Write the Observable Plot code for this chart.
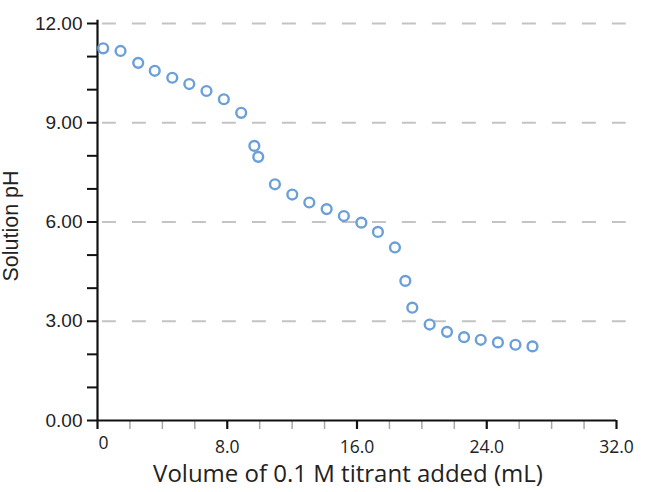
<!DOCTYPE html>
<html>
<head>
<meta charset="utf-8">
<script src="https://cdn.jsdelivr.net/npm/d3@7"></script>
<script src="https://cdn.jsdelivr.net/npm/@observablehq/plot@0.6"></script>
<style>
  html, body { margin: 0; padding: 0; background: #fff; overflow: hidden; }
  #chart svg { display: block; }
</style>
</head>
<body>
<div id="chart"></div>
<script>
// Titrant volume added (mL)
const volume = [0.35, 1.42, 2.51, 3.53, 4.61, 5.66, 6.72, 7.79, 8.86, 9.67, 9.91,
  10.94, 12.01, 13.06, 14.13, 15.19, 16.27, 17.29, 18.34, 18.98, 19.41,
  20.48, 21.55, 22.60, 23.63, 24.69, 25.77, 26.82];
// Solution pH
const pH = [11.25, 11.17, 10.81, 10.57, 10.36, 10.17, 9.96, 9.71, 9.30, 8.30, 7.97,
  7.14, 6.83, 6.59, 6.39, 6.18, 5.98, 5.70, 5.23, 4.22, 3.41,
  2.90, 2.68, 2.52, 2.44, 2.36, 2.29, 2.24];

const xMajor = [0, 8, 16, 24, 32];
const xMinor = [2, 4, 6, 10, 12, 14, 18, 20, 22, 26, 28, 30];
const xTickLabels = ["0", "8.0", "16.0", "24.0", "32.0"];
const yMajor = [0, 3, 6, 9, 12];
const yAll = [0, 1, 2, 3, 4, 5, 6, 7, 8, 9, 10, 11, 12];
const yTickLabels = ["0.00", "3.00", "6.00", "9.00", "12.00"];
const gridLines = [3, 6, 9, 12];
const xTitle = "Volume of 0.1 M titrant added (mL)";
const yTitle = "Solution pH";

const data = volume.map((v, i) => ({volume: v, pH: pH[i]}));
const xLabelFont = "Open Sans, Noto Sans, sans-serif";
const yLabelFont = "Liberation Sans, Arial, Helvetica, sans-serif";
const xFmt = d => xTickLabels[xMajor.indexOf(d)];

const chart = Plot.plot({
  width: 646,
  height: 492,
  marginLeft: 97,
  marginRight: 30,
  marginTop: 23,
  marginBottom: 72,
  x: {domain: [0, 32], axis: null},
  y: {domain: [0, 12], axis: null},
  style: {background: "#fff"},
  marks: [
    Plot.ruleY(gridLines, {stroke: "#c4c4c4", strokeWidth: 2, strokeDasharray: "14,16", x1: 0.3, x2: 32.6}),
    // y axis ticks (all black, unlabeled)
    Plot.axisY(yAll, {anchor: "left", label: null, tickSize: 10, tickFormat: () => "", stroke: "#111", strokeWidth: 2}),
    // y labels
    Plot.axisY(yMajor, {anchor: "left", label: null, tickSize: 0, tickPadding: 15,
      tickFormat: d => yTickLabels[yMajor.indexOf(d)],
      fontSize: 19, fontFamily: yLabelFont, fill: "#222"}),
    // x minor ticks
    Plot.axisX(xMinor, {anchor: "bottom", label: null, tickSize: 9, tickFormat: () => "", stroke: "#a8a8a8", strokeWidth: 1.5}),
    // x major ticks
    Plot.axisX(xMajor, {anchor: "bottom", label: null, tickSize: 9, tickFormat: () => "", stroke: "#111", strokeWidth: 2.2}),
    // x labels
    Plot.axisX(xMajor.slice(1), {anchor: "bottom", label: null, tickSize: 0, tickPadding: 20,
      tickFormat: xFmt, fontSize: 17.5, fontFamily: xLabelFont, fill: "#222"}),
    Plot.axisX(xMajor.slice(0, 1), {anchor: "bottom", label: null, tickSize: 0, tickPadding: 16, dx: 6,
      tickFormat: xFmt, fontSize: 17.5, fontFamily: xLabelFont, fill: "#222"}),
    // axis lines
    Plot.ruleX([0], {y1: 0, y2: 12.1, stroke: "#111", strokeWidth: 2.2}),
    Plot.ruleY([0], {x1: 0, x2: 32, stroke: "#111", strokeWidth: 2.2}),
    // data
    Plot.dot(data, {x: "volume", y: "pH", r: 4.9, stroke: "#6b9fd9", strokeWidth: 2.4, fill: "#fff"}),
    // titles
    Plot.text([xTitle], {frameAnchor: "bottom", textAnchor: "middle", dx: -9, dy: 61, lineAnchor: "bottom",
      fontSize: 24, fontFamily: xLabelFont, fill: "#222"}),
    Plot.text([yTitle], {frameAnchor: "left", textAnchor: "middle", rotate: -90, dx: -79.5, dy: 4, lineAnchor: "bottom",
      fontSize: 21.5, fontFamily: yLabelFont, fill: "#222"})
  ]
});
document.getElementById("chart").append(chart);
</script>
</body>
</html>
